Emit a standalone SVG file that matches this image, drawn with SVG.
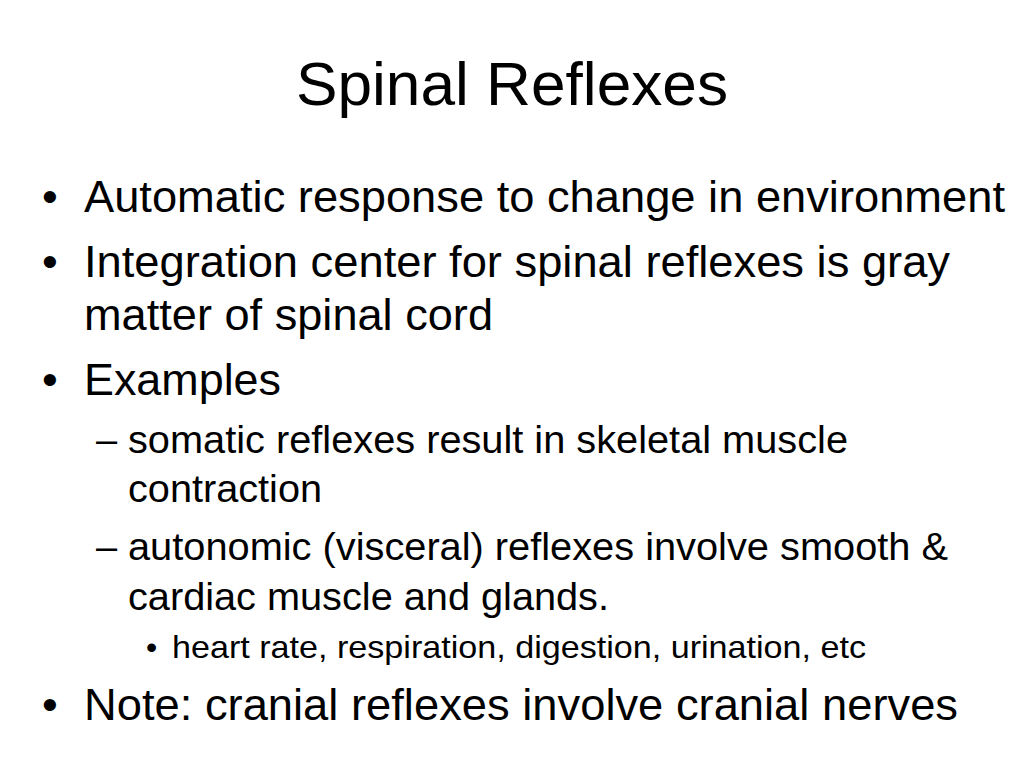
<svg xmlns="http://www.w3.org/2000/svg" width="1024" height="768" viewBox="0 0 1024 768">
<style>
text{font-family:"Liberation Sans",Arial,sans-serif;fill:#000}
.t{font-size:62px}
.l1{font-size:45px}
.l2{font-size:38px}
.l3{font-size:32px}
</style>
<rect width="1024" height="768" fill="#fff"/>
<text class="t" x="296" y="105" textLength="432" lengthAdjust="spacingAndGlyphs">Spinal Reflexes</text>
<g class="l1">
<text x="42" y="212">•</text><text x="84" y="212" textLength="921" lengthAdjust="spacingAndGlyphs">Automatic response to change in environment</text>
<text x="42" y="277">•</text><text x="84" y="277" textLength="866" lengthAdjust="spacingAndGlyphs">Integration center for spinal reflexes is gray</text>
<text x="84" y="330" textLength="409" lengthAdjust="spacingAndGlyphs">matter of spinal cord</text>
<text x="42" y="395">•</text><text x="84" y="395" textLength="197" lengthAdjust="spacingAndGlyphs">Examples</text>
<text x="42" y="720">•</text><text x="84" y="720" textLength="874" lengthAdjust="spacingAndGlyphs">Note: cranial reflexes involve cranial nerves</text>
</g>
<g class="l2">
<text x="96" y="453">–</text><text x="128" y="453" textLength="720" lengthAdjust="spacingAndGlyphs">somatic reflexes result in skeletal muscle</text>
<text x="128" y="502" textLength="194" lengthAdjust="spacingAndGlyphs">contraction</text>
<text x="96" y="560">–</text><text x="128" y="560" textLength="820" lengthAdjust="spacingAndGlyphs">autonomic (visceral) reflexes involve smooth &amp;</text>
<text x="128" y="610" textLength="481" lengthAdjust="spacingAndGlyphs">cardiac muscle and glands.</text>
</g>
<g class="l3">
<text x="146" y="658">•</text><text x="172" y="658" textLength="694" lengthAdjust="spacingAndGlyphs">heart rate, respiration, digestion, urination, etc</text>
</g>
</svg>
